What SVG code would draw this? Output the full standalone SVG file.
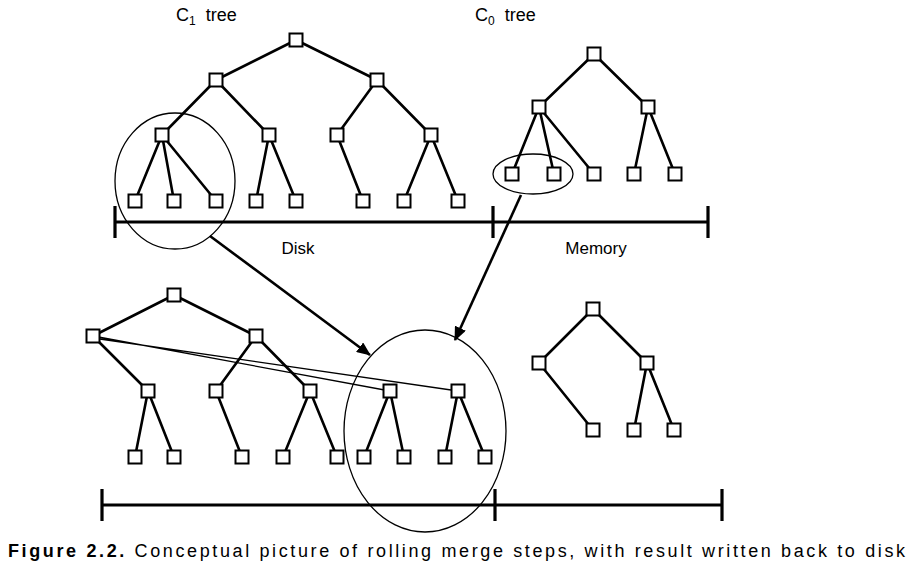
<svg xmlns="http://www.w3.org/2000/svg" width="910" height="568" viewBox="0 0 910 568">
<style>
.n{fill:#fff;stroke:#000;stroke-width:2}
.e{stroke:#000;stroke-width:2.6;fill:none}
.t{stroke:#000;stroke-width:1.3;fill:none}
.ax{stroke:#000;stroke-width:3.2;fill:none}
text{font-family:"Liberation Sans",Arial,sans-serif;fill:#000}
</style>
<defs>
<marker id="ah" markerWidth="14" markerHeight="12" refX="13" refY="6" orient="auto" markerUnits="userSpaceOnUse" viewBox="0 0 14 12"><path d="M0,0 L14,6 L0,12 z" fill="#000"/></marker>
<rect id="b" x="-6.5" y="-6.5" width="13" height="13" class="n"/>
</defs>
<g id="labels">
<text x="176" y="21" font-size="18">C<tspan font-size="12" dy="4">1</tspan><tspan dy="-4" dx="10">tree</tspan></text>
<text x="475" y="21" font-size="18">C<tspan font-size="12" dy="4">0</tspan><tspan dy="-4" dx="10">tree</tspan></text>
<text x="298" y="254" font-size="17" text-anchor="middle">Disk</text>
<text x="596" y="254" font-size="17" text-anchor="middle">Memory</text>
<text x="8" y="557" font-size="18" textLength="897" lengthAdjust="spacing"><tspan font-weight="bold">Figure 2.2.</tspan> Conceptual picture of rolling merge steps, with result written back to disk</text>
</g>
<g id="connectors">
<path class="e" d="M296,40L216,80M296,40L377,80M216,80L162,135M216,80L269,135M377,80L337,135M377,80L431,135M162,135L135,201M162,135L174,201M162,135L216,201M269,135L256,201M269,135L296,201M337,135L363,201M431,135L404,201M431,135L458,201"/>
<path class="e" d="M594,54L539,107M594,54L648,107M539,107L512,174M539,107L554,174M539,107L594,174M648,107L634,174M648,107L675,174"/>
<path class="e" d="M174,295L93,336M174,295L256,336M93,336L148,391M256,336L216,391M256,336L310,391M148,391L135,457M148,391L174,457M216,391L242,457M310,391L283,457M310,391L337,457M390,391L364,457M390,391L404,457M458,391L445,457M458,391L485,457"/>
<path class="t" d="M93,336L390,391M93,338L458,391"/>
<path class="e" d="M593,309L539,363M593,309L647,363M539,363L593,430M647,363L634,430M647,363L674,430"/>
<path class="e" d="M210,236L370,355" marker-end="url(#ah)"/>
<path class="e" d="M521,195L455,340" marker-end="url(#ah)"/>
<path class="ax" d="M115,222H708M115,206V238M493,206V238M708,206V238"/>
<path class="ax" d="M102,505H722M102,489V521M495,489V521M722,489V521"/>
<ellipse class="t" cx="175" cy="181" rx="60" ry="68"/>
<ellipse class="t" cx="533" cy="174" rx="40" ry="20"/>
<ellipse class="t" cx="425" cy="431" rx="81" ry="101"/>
</g>
<g id="c1tree">
<use href="#b" x="296" y="40"/><use href="#b" x="216" y="80"/><use href="#b" x="377" y="80"/>
<use href="#b" x="162" y="135"/><use href="#b" x="269" y="135"/><use href="#b" x="337" y="135"/><use href="#b" x="431" y="135"/>
<use href="#b" x="135" y="201"/><use href="#b" x="174" y="201"/><use href="#b" x="216" y="201"/><use href="#b" x="256" y="201"/><use href="#b" x="296" y="201"/><use href="#b" x="363" y="201"/><use href="#b" x="404" y="201"/><use href="#b" x="458" y="201"/>
</g>
<g id="c0tree">
<use href="#b" x="594" y="54"/><use href="#b" x="539" y="107"/><use href="#b" x="648" y="107"/>
<use href="#b" x="512" y="174"/><use href="#b" x="554" y="174"/><use href="#b" x="594" y="174"/><use href="#b" x="634" y="174"/><use href="#b" x="675" y="174"/>
</g>
<g id="mergedtree">
<use href="#b" x="174" y="295"/><use href="#b" x="93" y="336"/><use href="#b" x="256" y="336"/>
<use href="#b" x="148" y="391"/><use href="#b" x="216" y="391"/><use href="#b" x="310" y="391"/><use href="#b" x="390" y="391"/><use href="#b" x="458" y="391"/>
<use href="#b" x="135" y="457"/><use href="#b" x="174" y="457"/><use href="#b" x="242" y="457"/><use href="#b" x="283" y="457"/><use href="#b" x="337" y="457"/><use href="#b" x="364" y="457"/><use href="#b" x="404" y="457"/><use href="#b" x="445" y="457"/><use href="#b" x="485" y="457"/>
</g>
<g id="c0after">
<use href="#b" x="593" y="309"/><use href="#b" x="539" y="363"/><use href="#b" x="647" y="363"/>
<use href="#b" x="593" y="430"/><use href="#b" x="634" y="430"/><use href="#b" x="674" y="430"/>
</g>
</svg>
